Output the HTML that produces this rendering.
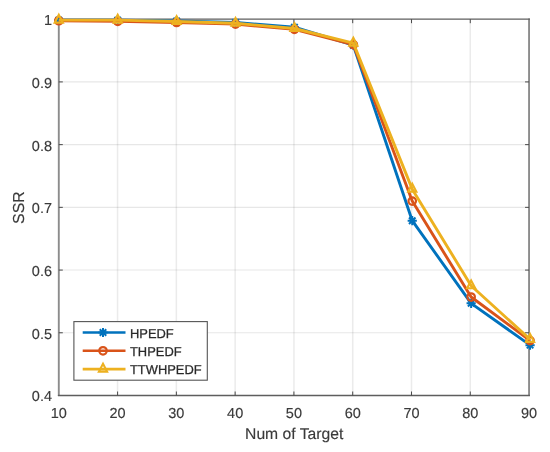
<!DOCTYPE html><html><head><meta charset="utf-8"><title>SSR</title>
<style>html,body{margin:0;padding:0;background:#fff}svg{display:block}text{text-rendering:geometricPrecision;font-family:"Liberation Sans",Arial,sans-serif;fill:#3a3a3a;stroke:#3a3a3a;stroke-width:0.15px}</style></head><body>
<svg width="550" height="452" viewBox="0 0 550 452">
<rect width="550" height="452" fill="#fff"/>
<line x1="117.58" y1="19.20" x2="117.58" y2="395.50" stroke="#262626" stroke-opacity="0.095" stroke-width="1.5"/>
<line x1="176.36" y1="19.20" x2="176.36" y2="395.50" stroke="#262626" stroke-opacity="0.095" stroke-width="1.5"/>
<line x1="235.14" y1="19.20" x2="235.14" y2="395.50" stroke="#262626" stroke-opacity="0.095" stroke-width="1.5"/>
<line x1="293.92" y1="19.20" x2="293.92" y2="395.50" stroke="#262626" stroke-opacity="0.095" stroke-width="1.5"/>
<line x1="352.71" y1="19.20" x2="352.71" y2="395.50" stroke="#262626" stroke-opacity="0.095" stroke-width="1.5"/>
<line x1="411.49" y1="19.20" x2="411.49" y2="395.50" stroke="#262626" stroke-opacity="0.095" stroke-width="1.5"/>
<line x1="470.27" y1="19.20" x2="470.27" y2="395.50" stroke="#262626" stroke-opacity="0.095" stroke-width="1.5"/>
<line x1="58.80" y1="332.78" x2="529.05" y2="332.78" stroke="#262626" stroke-opacity="0.11" stroke-width="1.1"/>
<line x1="58.80" y1="270.07" x2="529.05" y2="270.07" stroke="#262626" stroke-opacity="0.11" stroke-width="1.1"/>
<line x1="58.80" y1="207.35" x2="529.05" y2="207.35" stroke="#262626" stroke-opacity="0.11" stroke-width="1.1"/>
<line x1="58.80" y1="144.63" x2="529.05" y2="144.63" stroke="#262626" stroke-opacity="0.11" stroke-width="1.1"/>
<line x1="58.80" y1="81.92" x2="529.05" y2="81.92" stroke="#262626" stroke-opacity="0.11" stroke-width="1.1"/>
<line x1="58.80" y1="18.60" x2="58.80" y2="396.10" stroke="#8c8c8c" stroke-width="1.9"/>
<line x1="529.05" y1="18.60" x2="529.05" y2="396.10" stroke="#8c8c8c" stroke-width="1.9"/>
<line x1="57.90" y1="19.20" x2="529.95" y2="19.20" stroke="#5e5e5e" stroke-width="1.3"/>
<line x1="57.90" y1="395.50" x2="529.95" y2="395.50" stroke="#5e5e5e" stroke-width="1.3"/>
<line x1="117.58" y1="395.50" x2="117.58" y2="391.50" stroke="#4a4a4a" stroke-width="1.0"/>
<line x1="117.58" y1="19.20" x2="117.58" y2="23.20" stroke="#4a4a4a" stroke-width="1.0"/>
<line x1="176.36" y1="395.50" x2="176.36" y2="391.50" stroke="#4a4a4a" stroke-width="1.0"/>
<line x1="176.36" y1="19.20" x2="176.36" y2="23.20" stroke="#4a4a4a" stroke-width="1.0"/>
<line x1="235.14" y1="395.50" x2="235.14" y2="391.50" stroke="#4a4a4a" stroke-width="1.0"/>
<line x1="235.14" y1="19.20" x2="235.14" y2="23.20" stroke="#4a4a4a" stroke-width="1.0"/>
<line x1="293.92" y1="395.50" x2="293.92" y2="391.50" stroke="#4a4a4a" stroke-width="1.0"/>
<line x1="293.92" y1="19.20" x2="293.92" y2="23.20" stroke="#4a4a4a" stroke-width="1.0"/>
<line x1="352.71" y1="395.50" x2="352.71" y2="391.50" stroke="#4a4a4a" stroke-width="1.0"/>
<line x1="352.71" y1="19.20" x2="352.71" y2="23.20" stroke="#4a4a4a" stroke-width="1.0"/>
<line x1="411.49" y1="395.50" x2="411.49" y2="391.50" stroke="#4a4a4a" stroke-width="1.0"/>
<line x1="411.49" y1="19.20" x2="411.49" y2="23.20" stroke="#4a4a4a" stroke-width="1.0"/>
<line x1="470.27" y1="395.50" x2="470.27" y2="391.50" stroke="#4a4a4a" stroke-width="1.0"/>
<line x1="470.27" y1="19.20" x2="470.27" y2="23.20" stroke="#4a4a4a" stroke-width="1.0"/>
<line x1="58.80" y1="332.78" x2="62.80" y2="332.78" stroke="#4a4a4a" stroke-width="1.0"/>
<line x1="529.05" y1="332.78" x2="525.05" y2="332.78" stroke="#4a4a4a" stroke-width="1.0"/>
<line x1="58.80" y1="270.07" x2="62.80" y2="270.07" stroke="#4a4a4a" stroke-width="1.0"/>
<line x1="529.05" y1="270.07" x2="525.05" y2="270.07" stroke="#4a4a4a" stroke-width="1.0"/>
<line x1="58.80" y1="207.35" x2="62.80" y2="207.35" stroke="#4a4a4a" stroke-width="1.0"/>
<line x1="529.05" y1="207.35" x2="525.05" y2="207.35" stroke="#4a4a4a" stroke-width="1.0"/>
<line x1="58.80" y1="144.63" x2="62.80" y2="144.63" stroke="#4a4a4a" stroke-width="1.0"/>
<line x1="529.05" y1="144.63" x2="525.05" y2="144.63" stroke="#4a4a4a" stroke-width="1.0"/>
<line x1="58.80" y1="81.92" x2="62.80" y2="81.92" stroke="#4a4a4a" stroke-width="1.0"/>
<line x1="529.05" y1="81.92" x2="525.05" y2="81.92" stroke="#4a4a4a" stroke-width="1.0"/>
<text x="58.80" y="418.1" font-size="14.5" text-anchor="middle">10</text>
<text x="117.58" y="418.1" font-size="14.5" text-anchor="middle">20</text>
<text x="176.36" y="418.1" font-size="14.5" text-anchor="middle">30</text>
<text x="235.14" y="418.1" font-size="14.5" text-anchor="middle">40</text>
<text x="293.92" y="418.1" font-size="14.5" text-anchor="middle">50</text>
<text x="352.71" y="418.1" font-size="14.5" text-anchor="middle">60</text>
<text x="411.49" y="418.1" font-size="14.5" text-anchor="middle">70</text>
<text x="470.27" y="418.1" font-size="14.5" text-anchor="middle">80</text>
<text x="529.05" y="418.1" font-size="14.5" text-anchor="middle">90</text>
<text x="52.0" y="401.40" font-size="14.5" text-anchor="end">0.4</text>
<text x="52.0" y="338.68" font-size="14.5" text-anchor="end">0.5</text>
<text x="52.0" y="275.97" font-size="14.5" text-anchor="end">0.6</text>
<text x="52.0" y="213.25" font-size="14.5" text-anchor="end">0.7</text>
<text x="52.0" y="150.53" font-size="14.5" text-anchor="end">0.8</text>
<text x="52.0" y="87.82" font-size="14.5" text-anchor="end">0.9</text>
<text x="52.0" y="25.10" font-size="14.5" text-anchor="end">1</text>
<text x="294.2" y="439.4" font-size="15.7" text-anchor="middle">Num of Target</text>
<text transform="translate(24.2,207.6) rotate(-90)" font-size="15.9" text-anchor="middle">SSR</text>
<polyline points="58.80,20.14 117.71,20.14 176.61,20.96 235.52,22.52 294.42,27.23 353.33,45.23 412.24,220.71 471.14,303.31 530.05,345.14" fill="none" stroke="#0072BD" stroke-width="2.9" stroke-linejoin="round"/>
<path d="M58.80 15.54V24.74M54.20 20.14H63.40M55.55 16.89L62.05 23.39M55.55 23.39L62.05 16.89" stroke="#0072BD" stroke-width="2.00" fill="none"/>
<path d="M117.71 15.54V24.74M113.11 20.14H122.31M114.45 16.89L120.96 23.39M114.45 23.39L120.96 16.89" stroke="#0072BD" stroke-width="2.00" fill="none"/>
<path d="M176.61 16.36V25.56M172.01 20.96H181.21M173.36 17.70L179.86 24.21M173.36 24.21L179.86 17.70" stroke="#0072BD" stroke-width="2.00" fill="none"/>
<path d="M235.52 17.92V27.12M230.92 22.52H240.12M232.27 19.27L238.77 25.78M232.27 25.78L238.77 19.27" stroke="#0072BD" stroke-width="2.00" fill="none"/>
<path d="M294.42 22.63V31.83M289.82 27.23H299.02M291.17 23.98L297.68 30.48M291.17 30.48L297.68 23.98" stroke="#0072BD" stroke-width="2.00" fill="none"/>
<path d="M353.33 40.63V49.83M348.73 45.23H357.93M350.08 41.97L356.58 48.48M350.08 48.48L356.58 41.97" stroke="#0072BD" stroke-width="2.00" fill="none"/>
<path d="M412.24 216.11V225.31M407.64 220.71H416.84M408.98 217.46L415.49 223.96M408.98 223.96L415.49 217.46" stroke="#0072BD" stroke-width="2.00" fill="none"/>
<path d="M471.14 298.71V307.91M466.54 303.31H475.74M467.89 300.05L474.40 306.56M467.89 306.56L474.40 300.05" stroke="#0072BD" stroke-width="2.00" fill="none"/>
<path d="M530.05 340.54V349.74M525.45 345.14H534.65M526.80 341.89L533.30 348.39M526.80 348.39L533.30 341.89" stroke="#0072BD" stroke-width="2.00" fill="none"/>
<polyline points="58.80,20.77 117.71,21.40 176.61,22.46 235.52,24.09 294.42,29.36 353.33,44.60 412.24,201.08 471.14,297.03 530.05,340.62" fill="none" stroke="#D95319" stroke-width="2.9" stroke-linejoin="round"/>
<circle cx="58.80" cy="20.77" r="3.75" stroke="#D95319" stroke-width="2.20" fill="none"/>
<circle cx="117.71" cy="21.40" r="3.75" stroke="#D95319" stroke-width="2.20" fill="none"/>
<circle cx="176.61" cy="22.46" r="3.75" stroke="#D95319" stroke-width="2.20" fill="none"/>
<circle cx="235.52" cy="24.09" r="3.75" stroke="#D95319" stroke-width="2.20" fill="none"/>
<circle cx="294.42" cy="29.36" r="3.75" stroke="#D95319" stroke-width="2.20" fill="none"/>
<circle cx="353.33" cy="44.60" r="3.75" stroke="#D95319" stroke-width="2.20" fill="none"/>
<circle cx="412.24" cy="201.08" r="3.75" stroke="#D95319" stroke-width="2.20" fill="none"/>
<circle cx="471.14" cy="297.03" r="3.75" stroke="#D95319" stroke-width="2.20" fill="none"/>
<circle cx="530.05" cy="340.62" r="3.75" stroke="#D95319" stroke-width="2.20" fill="none"/>
<polyline points="58.80,20.14 117.71,20.14 176.61,21.52 235.52,23.28 294.42,28.48 353.33,43.16 412.24,189.16 471.14,285.75 530.05,339.37" fill="none" stroke="#EDB120" stroke-width="2.9" stroke-linejoin="round"/>
<path d="M58.80 14.84L62.90 22.64L54.70 22.64Z" stroke="#EDB120" stroke-width="2.10" fill="none" stroke-linejoin="miter"/>
<path d="M117.71 14.84L121.81 22.64L113.61 22.64Z" stroke="#EDB120" stroke-width="2.10" fill="none" stroke-linejoin="miter"/>
<path d="M176.61 16.22L180.71 24.02L172.51 24.02Z" stroke="#EDB120" stroke-width="2.10" fill="none" stroke-linejoin="miter"/>
<path d="M235.52 17.98L239.62 25.78L231.42 25.78Z" stroke="#EDB120" stroke-width="2.10" fill="none" stroke-linejoin="miter"/>
<path d="M294.42 23.18L298.52 30.98L290.32 30.98Z" stroke="#EDB120" stroke-width="2.10" fill="none" stroke-linejoin="miter"/>
<path d="M353.33 37.86L357.43 45.66L349.23 45.66Z" stroke="#EDB120" stroke-width="2.10" fill="none" stroke-linejoin="miter"/>
<path d="M412.24 183.86L416.34 191.66L408.14 191.66Z" stroke="#EDB120" stroke-width="2.10" fill="none" stroke-linejoin="miter"/>
<path d="M471.14 280.45L475.24 288.25L467.04 288.25Z" stroke="#EDB120" stroke-width="2.10" fill="none" stroke-linejoin="miter"/>
<path d="M530.05 334.07L534.15 341.87L525.95 341.87Z" stroke="#EDB120" stroke-width="2.10" fill="none" stroke-linejoin="miter"/>
<rect x="73.9" y="321.6" width="133.4" height="58.6" fill="#fff" stroke="#555" stroke-width="1.1"/>
<line x1="82.7" y1="332.50" x2="125.5" y2="332.50" stroke="#0072BD" stroke-width="2.6"/>
<text x="130.0" y="337.50" font-size="12.9" style="fill:#2a2a2a;stroke:#2a2a2a;stroke-width:0.25px">HPEDF</text>
<line x1="82.7" y1="350.80" x2="125.5" y2="350.80" stroke="#D95319" stroke-width="2.6"/>
<text x="130.0" y="355.90" font-size="12.9" style="fill:#2a2a2a;stroke:#2a2a2a;stroke-width:0.25px">THPEDF</text>
<line x1="82.7" y1="369.10" x2="125.5" y2="369.10" stroke="#EDB120" stroke-width="2.6"/>
<text x="130.0" y="374.40" font-size="12.9" style="fill:#2a2a2a;stroke:#2a2a2a;stroke-width:0.25px">TTWHPEDF</text>
<path d="M103.00 327.90V337.10M98.40 332.50H107.60M99.75 329.25L106.25 335.75M99.75 335.75L106.25 329.25" stroke="#0072BD" stroke-width="2.00" fill="none"/>
<circle cx="103.00" cy="350.80" r="3.75" stroke="#D95319" stroke-width="2.20" fill="none"/>
<path d="M103.00 363.80L107.10 371.60L98.90 371.60Z" stroke="#EDB120" stroke-width="2.10" fill="none" stroke-linejoin="miter"/>
</svg></body></html>
